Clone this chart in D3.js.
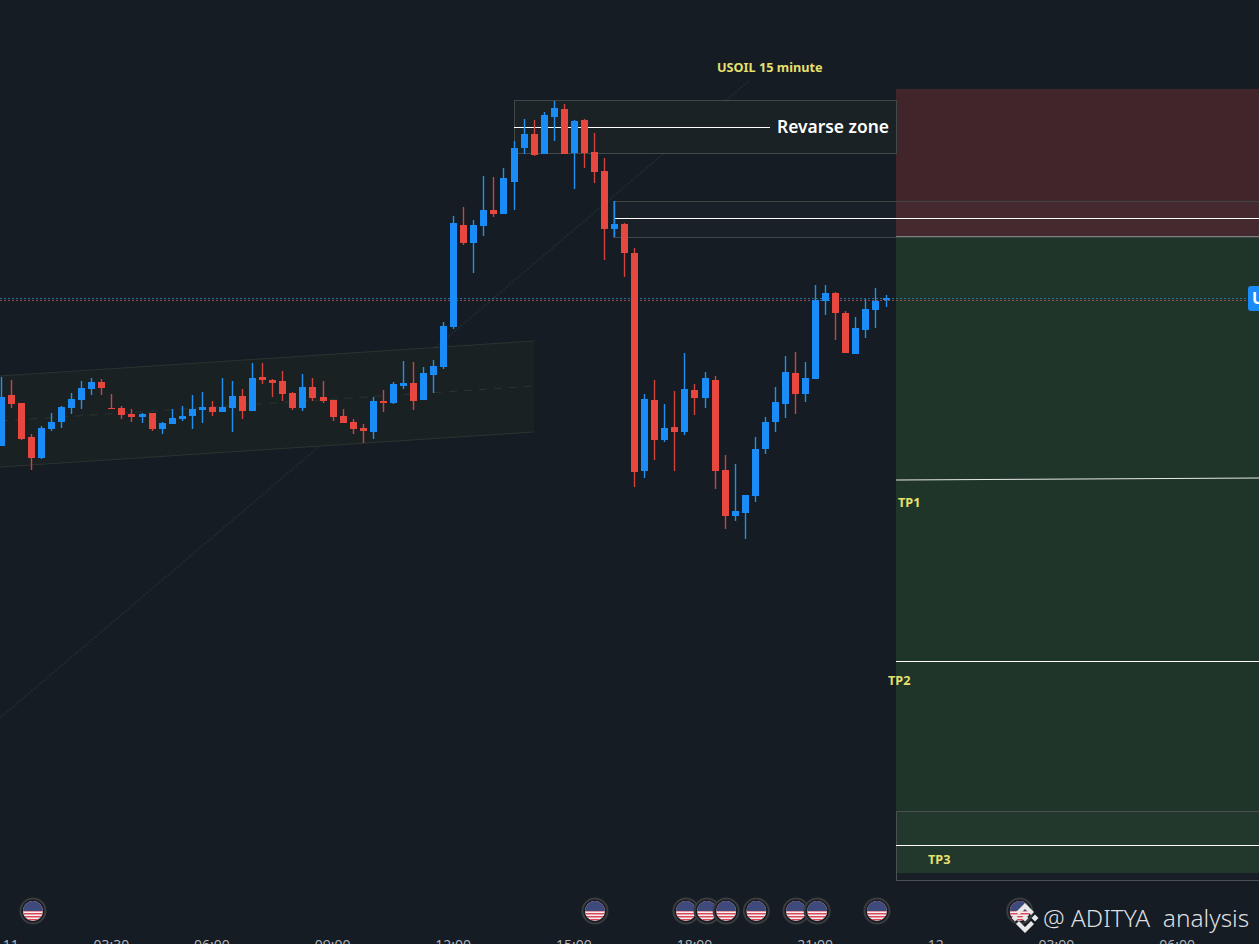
<!DOCTYPE html>
<html>
<head>
<meta charset="utf-8">
<title>USOIL 15 minute</title>
<script src="https://cdn.jsdelivr.net/npm/d3@7"></script>
<style>
html, body { margin: 0; padding: 0; background: #151c23; overflow: hidden; }
svg { display: block; }
</style>
</head>
<body>
<div id="canvas"></div>
<script>
// one candle every 15 minutes
const opens = [68.54,69.05,68.97,68.63,68.42,68.71,68.78,68.92,69.00,69.11,
  69.18,68.92,68.92,68.86,68.83,68.87,68.71,68.76,68.81,68.84,
  68.90,68.93,68.88,68.92,69.04,68.89,69.23,69.20,69.19,69.07,
  68.92,69.13,69.03,69.00,68.84,68.78,68.72,68.68,68.99,68.97,
  69.14,69.17,69.00,69.25,69.33,69.73,70.75,70.57,70.74,70.90,
  70.86,71.18,71.52,71.66,71.46,71.83,71.91,71.47,71.80,71.48,
  71.29,70.71,70.76,70.47,68.29,69.00,68.60,68.73,68.68,69.10,
  69.02,69.20,68.30,67.84,67.87,68.04,68.51,68.78,68.96,69.27,
  69.06,69.21,69.99,70.07,69.87,69.46,69.70,69.90,70.00];
const closes = [69.03,68.96,68.61,68.42,68.72,68.78,68.93,69.01,69.12,69.18,
  69.12,68.91,68.85,68.83,68.86,68.71,68.77,68.82,68.84,68.91,
  68.93,68.88,68.93,69.04,68.89,69.22,69.20,69.17,69.06,68.92,
  69.13,69.02,68.99,68.83,68.77,68.71,68.69,68.99,68.97,69.16,
  69.17,68.99,69.27,69.34,69.74,70.77,70.57,70.75,70.90,70.86,
  71.22,71.52,71.66,71.45,71.85,71.92,71.46,71.79,71.47,71.28,
  70.71,70.76,70.47,68.28,69.01,68.60,68.72,68.68,69.11,69.02,
  69.22,68.29,67.84,67.89,68.05,68.51,68.78,68.98,69.28,69.06,
  69.22,70.00,70.07,69.87,69.47,69.72,69.91,69.99,70.02];
const highs = [69.23,69.20,68.97,68.66,68.74,68.87,68.94,69.07,69.19,69.22,
  69.21,69.06,68.94,68.91,68.87,68.87,68.78,68.91,68.94,69.05,
  69.08,68.99,69.22,69.19,69.11,69.37,69.37,69.21,69.29,69.08,
  69.26,69.22,69.19,69.00,68.91,68.81,68.76,69.03,69.10,69.18,
  69.39,69.38,69.33,69.40,69.78,70.84,70.93,70.80,71.24,71.23,
  71.32,71.59,71.81,71.80,71.88,71.99,71.96,71.80,71.81,71.67,
  71.42,70.99,70.77,70.52,69.06,69.20,68.96,69.09,69.47,69.16,
  69.28,69.24,68.45,68.36,68.05,68.63,68.83,69.13,69.44,69.48,
  69.38,70.15,70.15,70.08,69.89,69.83,70.01,70.12,70.05];
const lows = [68.54,68.92,68.60,68.30,68.41,68.69,68.72,68.86,68.91,69.05,
  69.05,68.91,68.81,68.78,68.77,68.69,68.66,68.76,68.79,68.71,
  68.77,68.84,68.88,68.68,68.81,68.89,69.16,69.03,68.99,68.90,
  68.89,68.99,68.97,68.79,68.77,68.66,68.57,68.61,68.88,68.96,
  69.11,68.90,69.00,69.07,69.31,69.71,70.55,70.27,70.64,70.83,
  70.86,70.90,71.46,71.44,71.46,71.59,71.46,71.11,71.32,71.17,
  70.40,70.63,70.23,68.13,68.22,68.40,68.58,68.29,68.65,68.85,
  68.92,68.11,67.71,67.79,67.61,67.98,68.46,68.68,68.82,68.86,
  68.98,69.21,69.85,69.60,69.47,69.46,69.62,69.72,69.93];

const tickBars = [1, 11, 21, 33, 45, 57, 69, 81, 93, 105, 117];
const tickLabels = ["11", "03:30", "06:00", "09:00", "12:00", "15:00", "18:00", "21:00", "12", "03:00", "06:00"];
const eventBars = [3.15, 59.05, 68.1, 70.2, 72.1, 75.1, 79.05, 81.15, 87.1, 101.3];

// drawn levels, in price
const redZone = [72.11, 70.64];
const greenZone = [70.63, 64.27];
const reverseBox = [72.00, 71.47];
const reverseLevel = 71.73;
const entryBox = [70.99, 70.63];
const entryLevel = 70.82;
const tp1Level = [68.20, 68.22];
const tp2Level = 66.39;
const tp3Box = [64.89, 64.20];
const tp3Level = 64.55;
const bidLevel = 70.02;
const askLevel = 70.00;
const channelTop = [69.24, 69.59];
const channelMid = [68.79, 69.14];
const channelBottom = [68.33, 68.68];
const trendLine = [65.82, 72.20];

const width = 1259;
const height = 944;
const blue = "#1a8cf8";
const red = "#e8473f";
const yellow = "#e6e06e";

const t0 = new Date(2025, 5, 11, 0, 45);
const barTime = i => new Date(+t0 + i * 15 * 60000);

const x = d3.scaleTime().domain([barTime(0), barTime(88)]).range([1.3, 886]);
const y = d3.scaleLinear().domain([73, 63.56]).range([0, height]);

const candles = d3.range(opens.length).map(i => ({
  time: barTime(i), open: opens[i], close: closes[i], high: highs[i], low: lows[i]
}));

const svg = d3.select("#canvas").append("svg")
  .attr("width", width)
  .attr("height", height)
  .style("font-family", "'Noto Sans', sans-serif");

svg.append("rect").attr("width", width).attr("height", height).attr("fill", "#151c23");

const xZone = x(barTime(89));
const xRight = width;

function band(levels, x0, x1, fill, stroke) {
  return svg.append("rect")
    .attr("x", x0)
    .attr("y", y(levels[0]))
    .attr("width", x1 - x0)
    .attr("height", y(levels[1]) - y(levels[0]))
    .attr("fill", fill)
    .attr("stroke", stroke || "none")
    .attr("shape-rendering", "crispEdges");
}

function level(price, x0, x1, color) {
  return svg.append("line")
    .attr("x1", x0).attr("x2", x1)
    .attr("y1", y(price)).attr("y2", y(price))
    .attr("stroke", color || "#fff")
    .attr("shape-rendering", "crispEdges");
}

// faint long trend line
svg.append("line")
  .attr("x1", 0).attr("y1", y(trendLine[0]))
  .attr("x2", 750).attr("y2", y(trendLine[1]))
  .attr("stroke", "#1a2a2c")
  .attr("stroke-width", 2)
  .attr("stroke-dasharray", "3 1");

// parallel channel
const xChanEnd = x(barTime(53));
const chanLine = d3.line().x(d => d[0]).y(d => y(d[1]));
svg.append("path")
  .attr("d", chanLine([[0, channelTop[0]], [xChanEnd, channelTop[1]], [xChanEnd, channelBottom[1]], [0, channelBottom[0]]]) + "Z")
  .attr("fill", "#1a2123")
  .attr("stroke", "none");
[channelTop, channelBottom].forEach(c => {
  svg.append("line")
    .attr("x1", 0).attr("y1", y(c[0]))
    .attr("x2", xChanEnd).attr("y2", y(c[1]))
    .attr("stroke", "#2a3430");
});
svg.append("line")
  .attr("x1", 0).attr("y1", y(channelMid[0]))
  .attr("x2", xChanEnd).attr("y2", y(channelMid[1]))
  .attr("stroke", "#2a3430")
  .attr("stroke-dasharray", "8 7");

// long / short position zones
band(redZone, xZone, xRight, "#41252a");
band(greenZone, xZone, xRight, "#1f352a");
level(redZone[1], xZone, xRight, "#7c7f80");

// boxes
const xBox = x(barTime(51));
band(reverseBox, xBox, xZone, "#1a2226", "#40484a");
const xEntry = x(barTime(60.9));
band(entryBox, xEntry, xRight + 2, "rgba(255,255,255,0.02)", "#3e4646");
band(tp3Box, xZone, xRight + 2, "rgba(255,255,255,0.015)", "#4a5052");

level(reverseLevel, xBox, 770);
level(entryLevel, xEntry, xRight);
level(tp2Level, xZone, xRight);
level(tp3Level, xZone, xRight);
svg.append("line")
  .attr("x1", xZone).attr("y1", y(tp1Level[0]))
  .attr("x2", xRight).attr("y2", y(tp1Level[1]))
  .attr("stroke", "#e8e8e8");

// last price lines
level(bidLevel, 0, 1248, "#2f6f9f").attr("stroke-dasharray", "2 2");
level(askLevel, 0, 1248, "#8a4a4e").attr("stroke-dasharray", "2 2");

// candles, wicks get a soft halo so the thin ones keep their colour
const wickColor = d => d.close >= d.open ? "#2090f0" : "#d0423a";
const bars = svg.append("g").attr("shape-rendering", "crispEdges");
bars.selectAll(".halo").data(candles).enter().append("rect")
  .attr("class", "halo")
  .attr("x", d => Math.floor(x(d.time)) - 1)
  .attr("y", d => y(d.high))
  .attr("width", 3)
  .attr("height", d => y(d.low) - y(d.high))
  .attr("fill", wickColor)
  .attr("opacity", 0.2);
bars.selectAll(".wick").data(candles).enter().append("rect")
  .attr("class", "wick")
  .attr("x", d => Math.floor(x(d.time)))
  .attr("y", d => y(d.high))
  .attr("width", 1)
  .attr("height", d => y(d.low) - y(d.high))
  .attr("fill", wickColor);
bars.selectAll(".body").data(candles).enter().append("rect")
  .attr("class", "body")
  .attr("x", d => Math.floor(x(d.time)) - 3)
  .attr("y", d => y(Math.max(d.open, d.close)))
  .attr("width", 7)
  .attr("height", d => Math.max(1, Math.abs(y(d.open) - y(d.close))))
  .attr("fill", d => d.close >= d.open ? blue : red);

// price tag, cut by the window edge
svg.append("rect")
  .attr("x", 1248).attr("y", y(bidLevel) - 12)
  .attr("width", 30).attr("height", 25)
  .attr("rx", 3)
  .attr("fill", blue);
svg.append("text")
  .attr("x", 1252).attr("y", y(bidLevel) + 6)
  .attr("fill", "#fff")
  .attr("font-size", 16)
  .attr("font-weight", 700)
  .text("U");

// labels
function label(txt, px, py, size, color, weight) {
  return svg.append("text")
    .attr("x", px).attr("y", py)
    .attr("fill", color)
    .attr("font-size", size)
    .attr("font-weight", weight)
    .text(txt);
}
label("USOIL 15 minute", 717, 72, 12.7, yellow, 700);
label("Revarse zone", 777, 133, 17.4, "#fff", 600);
label("TP1", 898, 507, 12.7, yellow, 700);
label("TP2", 888, 685, 12.7, yellow, 700);
label("TP3", 928, 864, 12.7, yellow, 700);

// economic event flags
const flagW = 10;
svg.append("defs").append("clipPath").attr("id", "flag-clip")
  .append("circle").attr("r", flagW);
const flags = svg.selectAll(".flag").data(eventBars).enter().append("g")
  .attr("class", "flag")
  .attr("transform", d => `translate(${x(barTime(d))},911)`);
flags.append("circle").attr("r", 12.5).attr("fill", "#151c23").attr("stroke", "#3a3d40").attr("stroke-width", 2);
const flagBody = flags.append("g").attr("clip-path", "url(#flag-clip)");
flagBody.append("rect").attr("x", -flagW).attr("y", -flagW).attr("width", 2 * flagW).attr("height", 2 * flagW).attr("fill", "#f4f0f0");
flagBody.selectAll(".stripe").data(d3.range(0, 7)).enter().append("rect")
  .attr("class", "stripe")
  .attr("x", -flagW)
  .attr("y", i => -flagW + i * 3)
  .attr("width", 2 * flagW)
  .attr("height", 1.5)
  .attr("fill", "#d9485a");
flagBody.append("rect").attr("x", -flagW).attr("y", -flagW).attr("width", 2 * flagW).attr("height", 10).attr("fill", "#3f4a7c");

// time axis, the window edge cuts the labels
const axis = svg.append("g")
  .attr("transform", `translate(-1,${height - 7})`)
  .call(d3.axisBottom(x).tickValues(tickBars.map(barTime)).tickFormat((d, i) => tickLabels[i]).tickSize(0));
axis.select(".domain").remove();
axis.selectAll("text")
  .attr("fill", "#b2b5be")
  .attr("font-size", 14)
  .attr("font-family", "'Open Sans', sans-serif");

// watermark
const logo = svg.append("g")
  .attr("transform", "translate(1025,918)")
  .attr("fill", "#e8e8e8");
logo.append("path").attr("d", "M0,-3.5L3.5,0L0,3.5L-3.5,0Z");
logo.append("path").attr("d", "M-10,-3.5L-6.5,0L-10,3.5L-13.5,0Z");
logo.append("path").attr("d", "M10,-3.5L13.5,0L10,3.5L6.5,0Z");
logo.append("path").attr("d", "M0,-15L9,-6L6,-3L0,-9L-6,-3L-9,-6Z");
logo.append("path").attr("d", "M0,15L9,6L6,3L0,9L-6,3L-9,6Z");
svg.append("text")
  .attr("x", 1043).attr("y", 927)
  .attr("fill", "#dedfe0")
  .attr("font-size", 24.4)
  .attr("font-weight", 300)
  .style("white-space", "pre")
  .text("@ ADITYA  analysis");
</script>
</body>
</html>
